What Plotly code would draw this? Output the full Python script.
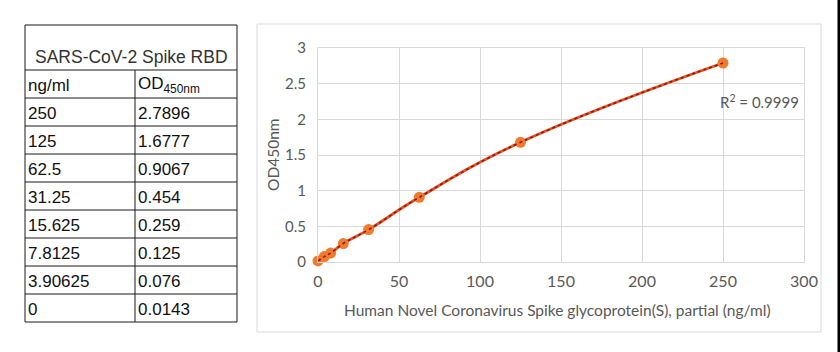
import plotly.graph_objects as go

# ---- data ----
conc = [250, 125, 62.5, 31.25, 15.625, 7.8125, 3.90625, 0]
od = [2.7896, 1.6777, 0.9067, 0.454, 0.259, 0.125, 0.076, 0.0143]
conc_labels = ["250", "125", "62.5", "31.25", "15.625", "7.8125", "3.90625", "0"]
od_labels = ["2.7896", "1.6777", "0.9067", "0.454", "0.259", "0.125", "0.076", "0.0143"]
table_title = "SARS-CoV-2 Spike RBD"
col_headers = ["ng/ml", "OD<sub>450nm</sub>"]
r2_text = "R<sup>2</sup> = 0.9999"
x_title = "Human Novel Coronavirus Spike glycoprotein(S), partial (ng/ml)"
y_title = "OD450nm"

W, H = 840, 352
L, R, T, B = 318, 804, 48, 262  # plot area in pixels


def px(x):
    return (x - L) / (R - L)


def py(y):
    return (B - y) / (B - T)


xs = sorted(conc)
ys = [od[conc.index(v)] for v in xs]

fig = go.Figure()
fig.add_trace(go.Scatter(
    x=xs, y=ys, mode="lines+markers",
    line=dict(color="#E8501C", width=2.8, shape="spline", smoothing=1.2),
    marker=dict(color="#F07A2E", size=11, line=dict(width=0)), cliponaxis=False,
    showlegend=False, hoverinfo="x+y"))
fig.add_trace(go.Scatter(
    x=xs, y=ys, mode="lines",
    line=dict(color="#8E1414", width=1.6, dash="dot", shape="spline", smoothing=1.2),
    cliponaxis=False, showlegend=False, hoverinfo="skip"))

xtickfont = dict(family="Lato, Open Sans, sans-serif", size=16, color="#595959")
ytickfont = dict(family="Lato, Open Sans, sans-serif", size=15, color="#595959")
fig.update_xaxes(range=[0, 300], dtick=50, tick0=0, showgrid=True, gridcolor="#D9D9D9",
                 gridwidth=1, zeroline=False, showline=True, linecolor="#D9D9D9", mirror=True,
                 ticks="outside", ticklen=5, tickcolor="rgba(0,0,0,0)", tickfont=xtickfont)
fig.update_yaxes(range=[0, 3], dtick=0.5, tick0=0, showgrid=True, gridcolor="#D9D9D9",
                 gridwidth=1, zeroline=False, showline=True, linecolor="#D9D9D9", mirror=True,
                 ticks="outside", ticklen=8, tickcolor="rgba(0,0,0,0)", tickfont=ytickfont)

shapes = []
# chart frame
shapes.append(dict(type="rect", xref="paper", yref="paper", x0=px(257), x1=px(821),
                   y0=py(332), y1=py(24), line=dict(color="#D9D9D9", width=1), layer="below"))
# right black strip
shapes.append(dict(type="rect", xref="paper", yref="paper", x0=px(837.5), x1=px(841),
                   y0=py(353), y1=py(-1), line=dict(width=0), fillcolor="#000000"))

# table lines
tl, tr, tc = 25, 237, 135
ttop, thead, rowh = 25, 70, 28
nrows = len(conc_labels) + 1
tbot = thead + rowh * nrows
hlines = [ttop, thead] + [thead + rowh * (i + 1) for i in range(nrows)]
for yy in hlines:
    shapes.append(dict(type="line", xref="paper", yref="paper", x0=px(tl), x1=px(tr),
                       y0=py(yy), y1=py(yy), line=dict(color="#1a1a1a", width=1)))
for xx, y0 in [(tl, ttop), (tr, ttop), (tc, thead)]:
    shapes.append(dict(type="line", xref="paper", yref="paper", x0=px(xx), x1=px(xx),
                       y0=py(y0), y1=py(tbot), line=dict(color="#1a1a1a", width=1)))

anns = []
tfont = dict(family="Liberation Sans, Arial, sans-serif", size=17, color="#111111")
anns.append(dict(text=table_title, xref="paper", yref="paper", x=px((tl + tr) / 2), y=py(57),
                 xanchor="center", yanchor="middle", showarrow=False,
                 font=dict(family="Liberation Sans, Arial, sans-serif", size=17.5, color="#333333")))
rows = [col_headers] + [[a, b] for a, b in zip(conc_labels, od_labels)]
for i, (a, b) in enumerate(rows):
    yc = thead + rowh * i + rowh / 2 + 1
    anns.append(dict(text=a, xref="paper", yref="paper", x=px(tl + 1), y=py(yc),
                     xanchor="left", yanchor="middle", showarrow=False, font=tfont))
    anns.append(dict(text=b, xref="paper", yref="paper", x=px(tc + 1), y=py(yc),
                     xanchor="left", yanchor="middle", showarrow=False, font=tfont))

cfont = dict(family="Lato, Open Sans, sans-serif", size=15.5, color="#595959")
anns.append(dict(text=r2_text, xref="paper", yref="paper", x=px(801), y=py(101),
                 xanchor="right", yanchor="middle", showarrow=False,
                 font=dict(family="Lato, Open Sans, sans-serif", size=15, color="#595959")))
anns.append(dict(text=x_title, xref="paper", yref="paper", x=px(557), y=py(310),
                 xanchor="center", yanchor="middle", showarrow=False, font=cfont))
anns.append(dict(text=y_title, xref="paper", yref="paper", x=px(273), y=py(155),
                 xanchor="center", yanchor="middle", showarrow=False, textangle=-90, font=cfont))

fig.update_layout(width=W, height=H, margin=dict(l=L, r=W - R, t=T, b=H - B, pad=0),
                  paper_bgcolor="white", plot_bgcolor="white", shapes=shapes, annotations=anns)

fig.write_html("out.html")
